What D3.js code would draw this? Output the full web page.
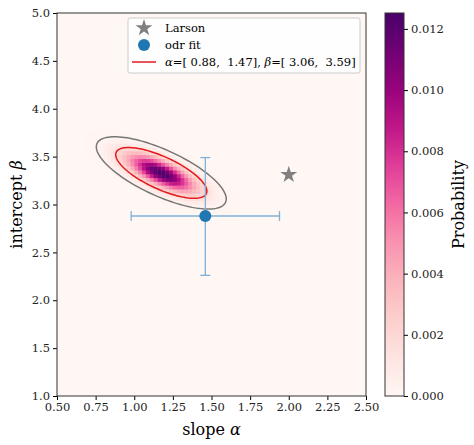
<!DOCTYPE html>
<html><head><meta charset="utf-8">
<script src="https://cdn.jsdelivr.net/npm/d3@7"></script>
<style>body{margin:0;background:#fff;font-family:"DejaVu Serif",serif}</style>
</head><body><svg id="c" width="474" height="445"></svg>
<script>
// posterior: centre, sigmas, correlation, peak cell prob
const center = [1.175, 3.33];
const sigma = [0.1475, 0.1325];
const rho = -0.72;
const peakProb = 0.0124;
const gridStep = [0.025, 0.04];
const contourLevels = [{k: 2.0, color: "#e41a1c"}, {k: 2.85, color: "#777"}];
const odr = {a: 1.46, b: 2.88, aLo: 0.98, aHi: 1.94, bLo: 2.26, bHi: 3.49};
const larson = {a: 2.0, b: 3.31};
const xTicks = [0.5, 0.75, 1.0, 1.25, 1.5, 1.75, 2.0, 2.25, 2.5];
const yTicks = [1.0, 1.5, 2.0, 2.5, 3.0, 3.5, 4.0, 4.5, 5.0];
const cTicks = [0, 0.002, 0.004, 0.006, 0.008, 0.010, 0.012];
const legendText = "=[ 0.88,  1.47], ";

const svg = d3.select("#c");
const L = 57, R = 366, T = 13, B = 396;
const x = d3.scaleLinear().domain([0.5, 2.5]).range([L, R]);
const y = d3.scaleLinear().domain([1, 5]).range([B, T]);
const cmax = 0.01252;
const color = v => d3.interpolateRdPu(v / cmax);

svg.append("rect").attr("x", L).attr("y", T).attr("width", R - L).attr("height", B - T).attr("fill", color(0));

// heat grid
const cells = [];
for (const a of d3.range(0.5, 2.5, gridStep[0]))
  for (const b of d3.range(1, 5, gridStep[1])) {
    const u = (a + gridStep[0] / 2 - center[0]) / sigma[0], w = (b + gridStep[1] / 2 - center[1]) / sigma[1];
    const q = (u * u - 2 * rho * u * w + w * w) / (1 - rho * rho);
    const p = peakProb * Math.exp(-q / 2);
    if (p > 1e-5) cells.push({a, b, p});
  }
svg.append("g").selectAll("rect").data(cells).join("rect")
  .attr("x", d => x(d.a)).attr("y", d => y(d.b + gridStep[1]))
  .attr("width", x(gridStep[0]) - x(0) + 0.4).attr("height", y(0) - y(gridStep[1]) + 0.4)
  .attr("fill", d => color(d.p));

// contour ellipses
const s11 = sigma[0] ** 2, s22 = sigma[1] ** 2, s12 = rho * sigma[0] * sigma[1];
const tr = (s11 + s22) / 2, det = Math.sqrt(((s11 - s22) / 2) ** 2 + s12 * s12);
const l1 = tr + det, l2 = tr - det, th = Math.atan2(l1 - s11, s12);
const line = d3.line().x(d => x(d[0])).y(d => y(d[1]));
contourLevels.forEach(c => {
  const pts = d3.range(0, 2 * Math.PI + 0.05, 0.05).map(t => {
    const e1 = c.k * Math.sqrt(l1) * Math.cos(t), e2 = c.k * Math.sqrt(l2) * Math.sin(t);
    return [center[0] + e1 * Math.cos(th) - e2 * Math.sin(th), center[1] + e1 * Math.sin(th) + e2 * Math.cos(th)];
  });
  svg.append("path").attr("d", line(pts)).attr("fill", "none").attr("stroke", c.color).attr("stroke-width", 1.5);
});

// odr fit with error bars
const eb = svg.append("g").attr("stroke", "#7fb0d9").attr("stroke-width", 1.3);
eb.append("line").attr("x1", x(odr.aLo)).attr("x2", x(odr.aHi)).attr("y1", y(odr.b)).attr("y2", y(odr.b));
eb.append("line").attr("x1", x(odr.a)).attr("x2", x(odr.a)).attr("y1", y(odr.bLo)).attr("y2", y(odr.bHi));
[odr.aLo, odr.aHi].forEach(v => eb.append("line").attr("x1", x(v)).attr("x2", x(v)).attr("y1", y(odr.b) - 5).attr("y2", y(odr.b) + 5));
[odr.bLo, odr.bHi].forEach(v => eb.append("line").attr("y1", y(v)).attr("y2", y(v)).attr("x1", x(odr.a) - 5).attr("x2", x(odr.a) + 5));
svg.append("circle").attr("cx", x(odr.a)).attr("cy", y(odr.b)).attr("r", 6).attr("fill", "#1f77b4");
const star = d3.symbol().type(d3.symbolStar).size(90);
svg.append("path").attr("d", star()).attr("transform", `translate(${x(larson.a)},${y(larson.b)})`).attr("fill", "#808080");

// axes
const ax = svg.append("g").attr("transform", `translate(0,${B})`).call(d3.axisBottom(x).tickValues(xTicks).tickFormat(d3.format(".2f")).tickSize(4));
const ay = svg.append("g").attr("transform", `translate(${L},0)`).call(d3.axisLeft(y).tickValues(yTicks).tickFormat(d3.format(".1f")).tickSize(4));
svg.append("rect").attr("x", L).attr("y", T).attr("width", R - L).attr("height", B - T).attr("fill", "none").attr("stroke", "#333").attr("stroke-width", 1);
[ax, ay].forEach(g => { g.select(".domain").remove(); g.selectAll("text").attr("font-family", "DejaVu Serif").attr("font-size", 11.5).attr("fill", "#222"); });
svg.append("text").attr("x", (L + R) / 2).attr("y", 435).attr("text-anchor", "middle").attr("font-size", 16).html('slope <tspan font-style="italic">α</tspan>');
svg.append("text").attr("transform", `translate(22,${(T + B) / 2}) rotate(-90)`).attr("text-anchor", "middle").attr("font-size", 16).html('intercept <tspan font-style="italic">β</tspan>');

// legend
const lg = svg.append("g");
lg.append("rect").attr("x", 128).attr("y", 18).attr("width", 232).attr("height", 55).attr("fill", "#fff").attr("fill-opacity", 0.85).attr("stroke", "#ccc").attr("rx", 2);
lg.append("path").attr("d", star()).attr("transform", "translate(144,28)").attr("fill", "#808080");
lg.append("circle").attr("cx", 144).attr("cy", 45).attr("r", 6).attr("fill", "#1f77b4");
lg.append("line").attr("x1", 132).attr("x2", 156).attr("y1", 62).attr("y2", 62).attr("stroke", "#e41a1c").attr("stroke-width", 1.5);
const lt = [["Larson", 32], ["odr fit", 49]];
lt.forEach(([t, yy]) => lg.append("text").attr("x", 165).attr("y", yy).attr("font-size", 11.5).text(t));
lg.append("text").attr("x", 165).attr("y", 66).attr("font-size", 11.5).attr("xml:space", "preserve")
  .html('<tspan font-style="italic">α</tspan>' + legendText + '<tspan font-style="italic">β</tspan>=[ 3.06,  3.59]');

// colorbar
const CL = 385, CR = 404;
const cy = d3.scaleLinear().domain([0, cmax]).range([B, T]);
const defs = svg.append("defs");
const grad = defs.append("linearGradient").attr("id", "g").attr("x1", 0).attr("x2", 0).attr("y1", 1).attr("y2", 0);
d3.range(0, 1.01, 0.1).forEach(t => grad.append("stop").attr("offset", t).attr("stop-color", color(t * cmax)));
svg.append("rect").attr("x", CL).attr("y", T).attr("width", CR - CL).attr("height", B - T).attr("fill", "url(#g)").attr("stroke", "#333");
const ac = svg.append("g").attr("transform", `translate(${CR},0)`).call(d3.axisRight(cy).tickValues(cTicks).tickFormat(d3.format(".3f")).tickSize(4));
ac.select(".domain").remove();
ac.selectAll("text").attr("font-family", "DejaVu Serif").attr("font-size", 11.5).attr("fill", "#222");
svg.append("text").attr("transform", `translate(464,${(T + B) / 2}) rotate(-90)`).attr("text-anchor", "middle").attr("font-size", 16).text("Probability");
</script></body></html>
